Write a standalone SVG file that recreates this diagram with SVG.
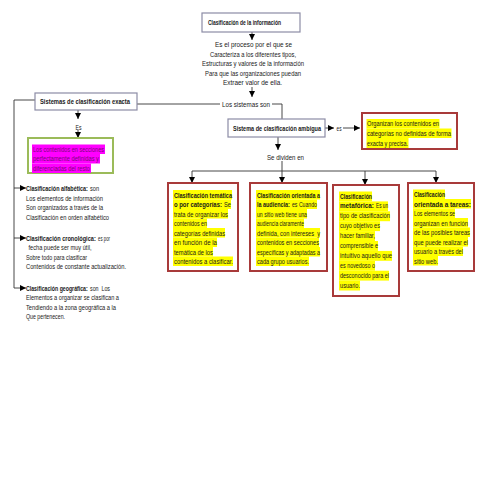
<svg xmlns="http://www.w3.org/2000/svg" width="495" height="495" viewBox="0 0 495 495">
<style>
text{font-family:"Liberation Sans",Arial,sans-serif;font-size:6.8px;fill:#1a1a1a}
.b{font-weight:bold}
.gbox{fill:#fff;stroke:#8c8ca6;stroke-width:1.2}
.rbox{fill:none;stroke:#a83a3a;stroke-width:2}
.hl{fill:#ffff00}
.mg{fill:#ff00ff}
.ln{fill:none;stroke:#333;stroke-width:0.9}
.mt{fill:#7a0a7a}
</style>
<defs>
<marker id="ah" viewBox="0 0 10 10" refX="10" refY="5" markerWidth="6" markerHeight="6" markerUnits="userSpaceOnUse" orient="auto">
<path d="M0,0 L10,5 L0,10 Z" fill="#000"/>
</marker>
</defs>
<rect width="495" height="495" fill="#fff"/>

<g id="connectors">
<line class="ln" x1="252" y1="32" x2="252" y2="40" marker-end="url(#ah)"/>
<line class="ln" x1="252" y1="87" x2="252" y2="97" marker-end="url(#ah)"/>
<polyline class="ln" points="137,104 220,104"/>
<polyline class="ln" points="272,104 282,104 282,119"/>
<polyline class="ln" points="35,100 14,100 14,288"/>
<line class="ln" x1="14" y1="188" x2="26" y2="188" marker-end="url(#ah)"/>
<line class="ln" x1="14" y1="238" x2="26" y2="238" marker-end="url(#ah)"/>
<line class="ln" x1="14" y1="288" x2="26" y2="288" marker-end="url(#ah)"/>
<line class="ln" x1="78" y1="110" x2="78" y2="119" marker-end="url(#ah)"/>
<line class="ln" x1="78" y1="130" x2="78" y2="138" marker-end="url(#ah)"/>
<line class="ln" x1="325" y1="128" x2="334" y2="128" marker-end="url(#ah)"/>
<line class="ln" x1="343" y1="128" x2="360" y2="128" marker-end="url(#ah)"/>
<line class="ln" x1="278" y1="137" x2="278" y2="150" marker-end="url(#ah)"/>
<line class="ln" x1="282" y1="161" x2="282" y2="171"/>
<polyline class="ln" points="192,171 436,171"/>
<line class="ln" x1="192" y1="171" x2="192" y2="183" marker-end="url(#ah)"/>
<line class="ln" x1="282" y1="171" x2="282" y2="183" marker-end="url(#ah)"/>
<line class="ln" x1="365" y1="171" x2="365" y2="185" marker-end="url(#ah)"/>
<line class="ln" x1="436" y1="171" x2="436" y2="183" marker-end="url(#ah)"/>
<text x="222" y="106.5" textLength="48" lengthAdjust="spacingAndGlyphs">Los sistemas son</text>
<text x="75.5" y="129.5" textLength="6" lengthAdjust="spacingAndGlyphs">Es</text>
<text x="336.5" y="130.5" textLength="5" lengthAdjust="spacingAndGlyphs">es</text>
<text x="267" y="159.5" textLength="37" lengthAdjust="spacingAndGlyphs">Se dividen en</text>
</g>

<g id="title">
<rect class="gbox" x="202" y="13" width="98" height="19"/>
<text class="b" x="208" y="25" textLength="73" lengthAdjust="spacingAndGlyphs">Clasificación de la información</text>
</g>

<g id="definicion">
<text x="215" y="47" textLength="77" lengthAdjust="spacingAndGlyphs">Es el proceso por el que se</text>
<text x="210" y="56.5" textLength="86" lengthAdjust="spacingAndGlyphs">Caracteriza a los diferentes tipos,</text>
<text x="202" y="66" textLength="102" lengthAdjust="spacingAndGlyphs">Estructuras y valores de la información</text>
<text x="205" y="75.5" textLength="96" lengthAdjust="spacingAndGlyphs">Para que las organizaciones puedan</text>
<text x="223" y="85" textLength="59" lengthAdjust="spacingAndGlyphs">Extraer valor de ella.</text>
</g>

<g id="exacta">
<rect class="gbox" x="35" y="93" width="102" height="17"/>
<text class="b" x="40" y="104" textLength="90" lengthAdjust="spacingAndGlyphs">Sistemas de clasificación exacta</text>
</g>

<g id="exacta-def">
<rect x="28" y="138" width="85" height="35" fill="#fff" stroke="#9bbb59" stroke-width="2"/>
<rect class="mg" x="32" y="144.5" width="73" height="9.5"/>
<rect class="mg" x="32" y="154" width="68" height="9.5"/>
<rect class="mg" x="32" y="163.5" width="59" height="9.5"/>
<text class="mt" x="33" y="151.5" textLength="71" lengthAdjust="spacingAndGlyphs">Los contenidos en secciones</text>
<text class="mt" x="33" y="161" textLength="66" lengthAdjust="spacingAndGlyphs">perfectamente definidas y</text>
<text class="mt" x="33" y="170.5" textLength="57" lengthAdjust="spacingAndGlyphs">diferenciadas del resto</text>
</g>

<g id="alfabetica">
<text class="b" transform="translate(26 191) scale(0.8 1)">Clasificación alfabética:</text>
<text x="90" y="191" textLength="9" lengthAdjust="spacingAndGlyphs">son</text>
<text x="26" y="200.5" textLength="77" lengthAdjust="spacingAndGlyphs">Los elementos de información</text>
<text x="26" y="210" textLength="77" lengthAdjust="spacingAndGlyphs">Son organizados a través de la</text>
<text x="26" y="219.5" textLength="83" lengthAdjust="spacingAndGlyphs">Clasificación en orden alfabético</text>
</g>

<g id="cronologica">
<text class="b" transform="translate(26 240.5) scale(0.827 1)">Clasificación cronológica:</text>
<text x="98" y="240.5" textLength="12" lengthAdjust="spacingAndGlyphs">es por</text>
<text x="28.5" y="250" textLength="63" lengthAdjust="spacingAndGlyphs">fecha puede ser muy útil,</text>
<text x="26" y="259.5" textLength="61" lengthAdjust="spacingAndGlyphs">Sobre todo para clasificar</text>
<text x="26" y="269" textLength="100" lengthAdjust="spacingAndGlyphs">Contenidos de constante actualización.</text>
</g>

<g id="geografica">
<text class="b" transform="translate(26 290.5) scale(0.77 1)">Clasificación geográfica:</text>
<text x="90" y="290.5" textLength="20" lengthAdjust="spacingAndGlyphs" xml:space="preserve">son  Los</text>
<text x="26" y="300" textLength="93" lengthAdjust="spacingAndGlyphs">Elementos a organizar se clasifican a</text>
<text x="26" y="309.5" textLength="90" lengthAdjust="spacingAndGlyphs">Tendiendo a la zona geográfica a la</text>
<text x="26" y="319" textLength="39" lengthAdjust="spacingAndGlyphs">Que pertenecen.</text>
</g>

<g id="ambigua">
<rect class="gbox" x="228" y="119" width="97" height="18"/>
<text class="b" transform="translate(233 130.5) scale(0.812 1)">Sistema de clasificación ambigua</text>
</g>

<g id="ambigua-def">
<rect x="362" y="113" width="95" height="36" fill="#fff"/>
<rect class="hl" x="366.5" y="119" width="73" height="9.5"/>
<rect class="hl" x="366.5" y="128.5" width="85" height="9.5"/>
<rect class="hl" x="366.5" y="138" width="42" height="10"/>
<text x="367" y="126" textLength="72" lengthAdjust="spacingAndGlyphs">Organizan los contenidos en</text>
<text x="367" y="135.5" textLength="84" lengthAdjust="spacingAndGlyphs">categorías no definidas de forma</text>
<text x="367" y="146" textLength="41" lengthAdjust="spacingAndGlyphs">exacta y precisa.</text>
<rect class="rbox" x="362" y="113" width="95" height="36"/>
</g>

<g id="tematica">
<rect x="168" y="183" width="70" height="88" fill="#fff"/>
<rect class="hl" x="173" y="190" width="59" height="9.5"/>
<rect class="hl" x="173" y="199.5" width="58" height="9.5"/>
<rect class="hl" x="173" y="209" width="55" height="9.5"/>
<rect class="hl" x="173" y="218.5" width="34" height="9.5"/>
<rect class="hl" x="173" y="228" width="52" height="9.5"/>
<rect class="hl" x="173" y="237.5" width="44" height="9.5"/>
<rect class="hl" x="173" y="247" width="40" height="9.5"/>
<rect class="hl" x="173" y="256.5" width="60" height="9.5"/>
<text x="174" y="197.5" class="b" textLength="58" lengthAdjust="spacingAndGlyphs">Clasificación temática</text>
<text class="b" transform="translate(174 207) scale(0.87 1)">o por categorías:</text>
<text x="224" y="207" textLength="7" lengthAdjust="spacingAndGlyphs">Se</text>
<text x="174" y="216.5" textLength="54" lengthAdjust="spacingAndGlyphs">trata de organizar los</text>
<text x="174" y="226" textLength="33" lengthAdjust="spacingAndGlyphs">contenidos en</text>
<text x="174" y="235.5" textLength="51" lengthAdjust="spacingAndGlyphs">categorías definidas</text>
<text x="174" y="245" textLength="43" lengthAdjust="spacingAndGlyphs">en función de la</text>
<text x="174" y="254.5" textLength="39" lengthAdjust="spacingAndGlyphs">temática de los</text>
<text x="174" y="264" textLength="59" lengthAdjust="spacingAndGlyphs">contenidos a clasificar.</text>
<rect class="rbox" x="168" y="183" width="70" height="88"/>
</g>

<g id="audiencia">
<rect x="250" y="183" width="77" height="88" fill="#fff"/>
<rect class="hl" x="256" y="190" width="64" height="9.5"/>
<rect class="hl" x="256" y="199.5" width="61" height="9.5"/>
<rect class="hl" x="256" y="209" width="51" height="9.5"/>
<rect class="hl" x="256" y="218.5" width="48" height="9.5"/>
<rect class="hl" x="256" y="228" width="64" height="9.5"/>
<rect class="hl" x="256" y="237.5" width="63" height="9.5"/>
<rect class="hl" x="256" y="247" width="64" height="9.5"/>
<rect class="hl" x="256" y="256.5" width="53" height="9.5"/>
<text x="257" y="197.5" class="b" textLength="63" lengthAdjust="spacingAndGlyphs">Clasificación orientada a</text>
<text class="b" transform="translate(257 207) scale(0.8 1)">la audiencia:</text>
<text x="292" y="207" textLength="25" lengthAdjust="spacingAndGlyphs">es Cuando</text>
<text x="257" y="216.5" textLength="50" lengthAdjust="spacingAndGlyphs">un sitio web tiene una</text>
<text x="257" y="226" textLength="47" lengthAdjust="spacingAndGlyphs">audiencia claramente</text>
<text x="257" y="235.5" textLength="63" lengthAdjust="spacingAndGlyphs" xml:space="preserve">definida, con intereses  y</text>
<text x="257" y="245" textLength="62" lengthAdjust="spacingAndGlyphs">contenidos en secciones</text>
<text x="257" y="254.5" textLength="63" lengthAdjust="spacingAndGlyphs">específicas y adaptadas a</text>
<text x="257" y="264" textLength="52" lengthAdjust="spacingAndGlyphs">cada grupo usuarios.</text>
<rect class="rbox" x="250" y="183" width="77" height="88"/>
</g>

<g id="metaforica">
<rect x="333" y="185" width="66" height="111" fill="#fff"/>
<rect class="hl" x="339" y="191.5" width="33" height="9.9"/>
<rect class="hl" x="339" y="201.4" width="49" height="9.9"/>
<rect class="hl" x="339" y="211.3" width="51" height="9.9"/>
<rect class="hl" x="339" y="221.2" width="41" height="9.9"/>
<rect class="hl" x="339" y="231.1" width="36" height="9.9"/>
<rect class="hl" x="339" y="241" width="39" height="9.9"/>
<rect class="hl" x="339" y="250.9" width="53" height="9.9"/>
<rect class="hl" x="339" y="260.8" width="36" height="9.9"/>
<rect class="hl" x="339" y="270.7" width="50" height="9.9"/>
<rect class="hl" x="339" y="280.6" width="21" height="9.9"/>
<text x="340" y="198.5" class="b" textLength="32" lengthAdjust="spacingAndGlyphs">Clasificación</text>
<text class="b" transform="translate(340 208.4) scale(0.926 1)">metafórica:</text>
<text x="376" y="208.4" textLength="12" lengthAdjust="spacingAndGlyphs">Es un</text>
<text x="340" y="218.3" textLength="50" lengthAdjust="spacingAndGlyphs">tipo de clasificación</text>
<text x="340" y="228.2" textLength="40" lengthAdjust="spacingAndGlyphs">cuyo objetivo es</text>
<text x="340" y="238.1" textLength="35" lengthAdjust="spacingAndGlyphs">hacer familiar,</text>
<text x="340" y="248" textLength="38" lengthAdjust="spacingAndGlyphs">comprensible e</text>
<text x="340" y="257.9" textLength="52" lengthAdjust="spacingAndGlyphs">intuitivo aquello que</text>
<text x="340" y="267.8" textLength="35" lengthAdjust="spacingAndGlyphs">es novedoso o</text>
<text x="340" y="277.7" textLength="49" lengthAdjust="spacingAndGlyphs">desconocido para el</text>
<text x="340" y="287.6" textLength="20" lengthAdjust="spacingAndGlyphs">usuario.</text>
<rect class="rbox" x="333" y="185" width="66" height="111"/>
</g>

<g id="tareas">
<rect x="408" y="183" width="66" height="88" fill="#fff"/>
<rect class="hl" x="413" y="189.5" width="32" height="9.5"/>
<rect class="hl" x="413" y="199" width="58" height="9.5"/>
<rect class="hl" x="413" y="208.5" width="42" height="9.5"/>
<rect class="hl" x="413" y="218" width="55" height="9.5"/>
<rect class="hl" x="413" y="227.5" width="57" height="9.5"/>
<rect class="hl" x="413" y="237" width="55" height="9.5"/>
<rect class="hl" x="413" y="246.5" width="50" height="9.5"/>
<rect class="hl" x="413" y="256" width="25" height="9.5"/>
<text x="414" y="197" class="b" textLength="31" lengthAdjust="spacingAndGlyphs">Clasificación</text>
<text x="414" y="206.5" class="b" textLength="57" lengthAdjust="spacingAndGlyphs">orientada a tareas:</text>
<text x="414" y="216" textLength="41" lengthAdjust="spacingAndGlyphs">Los elementos se</text>
<text x="414" y="225.5" textLength="54" lengthAdjust="spacingAndGlyphs">organizan en función</text>
<text x="414" y="235" textLength="56" lengthAdjust="spacingAndGlyphs">de las posibles tareas</text>
<text x="414" y="244.5" textLength="54" lengthAdjust="spacingAndGlyphs">que puede realizar el</text>
<text x="414" y="254" textLength="49" lengthAdjust="spacingAndGlyphs">usuario a través del</text>
<text x="414" y="263.5" textLength="24" lengthAdjust="spacingAndGlyphs">sitio web.</text>
<rect class="rbox" x="408" y="183" width="66" height="88"/>
</g>
</svg>
